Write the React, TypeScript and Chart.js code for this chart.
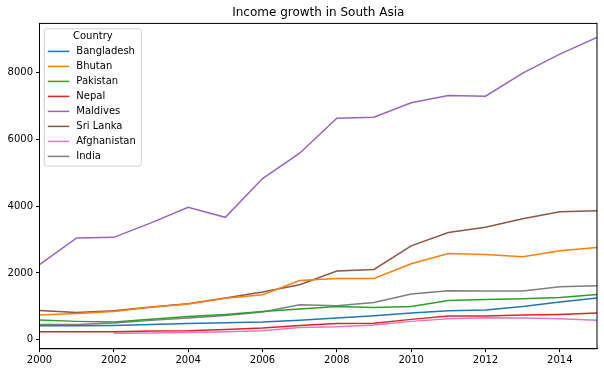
import React, { useEffect, useRef } from "react";
import { Chart, registerables } from "chart.js";

Chart.register(...registerables);

const TITLE = "Income growth in South Asia";
const LEGEND_TITLE = "Country";
const YEARS = [2000, 2001, 2002, 2003, 2004, 2005, 2006, 2007, 2008, 2009, 2010, 2011, 2012, 2013, 2014, 2015];
const COUNTRIES = ["Bangladesh", "Bhutan", "Pakistan", "Nepal", "Maldives", "Sri Lanka", "Afghanistan", "India"];
const COLORS = ["#1f77b4", "#ff7f0e", "#2ca02c", "#d62728", "#9467bd", "#8c564b", "#e377c2", "#7f7f7f"];

const BANGLADESH = [419, 419, 429, 455, 489, 509, 529, 579, 649, 718, 798, 868, 893, 998, 1128, 1248];
const BHUTAN = [739, 788, 848, 970, 1070, 1240, 1347, 1775, 1836, 1836, 2275, 2584, 2554, 2485, 2665, 2764];
const PAKISTAN = [590, 549, 529, 615, 698, 758, 848, 918, 998, 968, 998, 1178, 1208, 1228, 1268, 1357];
const NEPAL = [240, 240, 240, 258, 269, 309, 349, 429, 489, 490, 609, 708, 708, 738, 758, 798];
const MALDIVES = [2250, 3050, 3068, 3500, 3967, 3667, 4830, 5590, 6640, 6670, 7100, 7320, 7300, 7990, 8560, 9060];
const SRI_LANKA = [877, 818, 868, 980, 1078, 1250, 1427, 1647, 2056, 2105, 2814, 3213, 3373, 3623, 3832, 3862];
const AFGHANISTAN = [null, null, 190, 200, 215, 240, 269, 369, 389, 439, 549, 629, 659, 649, 629, 579];
const INDIA = [459, 459, 499, 579, 649, 728, 828, 1048, 1018, 1118, 1367, 1467, 1457, 1457, 1587, 1617];

const SERIES = [BANGLADESH, BHUTAN, PAKISTAN, NEPAL, MALDIVES, SRI_LANKA, AFGHANISTAN, INDIA];

const X_TICKS = [2000, 2002, 2004, 2006, 2008, 2010, 2012, 2014];
const Y_TICKS = [0, 2000, 4000, 6000, 8000];
const X_MIN = 2000;
const X_MAX = 2015;
const Y_MIN = -270;
const Y_MAX = 9480;

const FONT = "'DejaVu Sans', sans-serif";

const framePlugin = {
  id: "frame",
  afterDatasetsDraw(chart: any) {
    const { ctx, chartArea: a } = chart;
    ctx.save();
    ctx.strokeStyle = "#000";
    ctx.lineWidth = 1;
    ctx.strokeRect(a.left, a.top, a.right - a.left, a.bottom - a.top);
    ctx.restore();
  },
};

const legendPlugin = {
  id: "boxLegend",
  afterDraw(chart: any) {
    const { ctx, chartArea: a } = chart;
    const bx = a.left + 4.8;
    const by = a.top + 5.4;
    const bw = 97;
    const bh = 137.3;
    const r = 2.5;
    ctx.save();
    ctx.beginPath();
    ctx.moveTo(bx + r, by);
    ctx.lineTo(bx + bw - r, by);
    ctx.quadraticCurveTo(bx + bw, by, bx + bw, by + r);
    ctx.lineTo(bx + bw, by + bh - r);
    ctx.quadraticCurveTo(bx + bw, by + bh, bx + bw - r, by + bh);
    ctx.lineTo(bx + r, by + bh);
    ctx.quadraticCurveTo(bx, by + bh, bx, by + bh - r);
    ctx.lineTo(bx, by + r);
    ctx.quadraticCurveTo(bx, by, bx + r, by);
    ctx.closePath();
    ctx.fillStyle = "rgba(255,255,255,0.8)";
    ctx.fill();
    ctx.strokeStyle = "#d0d0d0";
    ctx.lineWidth = 1;
    ctx.stroke();

    ctx.fillStyle = "#000";
    ctx.font = `10px ${FONT}`;
    ctx.textBaseline = "middle";
    ctx.textAlign = "center";
    ctx.fillText(LEGEND_TITLE, bx + bw / 2, a.top + 12.7);
    ctx.textAlign = "left";
    COUNTRIES.forEach((name, i) => {
      const y = a.top + 28 + i * 15;
      ctx.strokeStyle = COLORS[i];
      ctx.lineWidth = 1.5;
      ctx.beginPath();
      ctx.moveTo(bx + 3.5, y);
      ctx.lineTo(bx + 25, y);
      ctx.stroke();
      ctx.fillStyle = "#000";
      ctx.fillText(name, bx + 32, y);
    });
    ctx.restore();
  },
};

export default function App() {
  const ref = useRef<HTMLCanvasElement | null>(null);

  useEffect(() => {
    if (!ref.current) return;
    const datasets = COUNTRIES.map((name, i) => ({
      label: name,
      data: YEARS.map((x, j) => ({ x, y: SERIES[i][j] })),
      borderColor: COLORS[i],
      backgroundColor: COLORS[i],
      borderWidth: 1.5,
      pointRadius: 0,
      pointHoverRadius: 0,
      tension: 0,
      fill: false,
      spanGaps: false,
    }));

    const tickFont = { family: FONT, size: 10 };

    const chart = new Chart(ref.current, {
      type: "line",
      data: { datasets },
      options: {
        animation: false,
        responsive: false,
        devicePixelRatio: 1,
        layout: { padding: { left: 0, right: 7, top: 0, bottom: 0 } },
        plugins: {
          legend: { display: false },
          tooltip: { enabled: false },
          title: {
            display: true,
            text: TITLE,
            fullSize: false,
            color: "#000",
            font: { family: FONT, size: 12, weight: "normal" },
            padding: { top: 6, bottom: 3 },
          },
        },
        scales: {
          x: {
            type: "linear",
            min: X_MIN,
            max: X_MAX,
            afterBuildTicks: (s: any) => {
              s.ticks = X_TICKS.map((v) => ({ value: v }));
            },
            afterFit: (s: any) => {
              s.height = 24.3;
            },
            grid: {
              display: true,
              drawOnChartArea: false,
              drawTicks: true,
              tickLength: 3.5,
              color: "#000",
              lineWidth: 1,
            },
            border: { display: true, color: "#000", width: 1 },
            ticks: {
              font: tickFont,
              color: "#000",
              padding: 2,
              maxRotation: 0,
              autoSkip: false,
              callback: (v: any) => String(v),
            },
          },
          y: {
            type: "linear",
            min: Y_MIN,
            max: Y_MAX,
            afterBuildTicks: (s: any) => {
              s.ticks = Y_TICKS.map((v) => ({ value: v }));
            },
            afterFit: (s: any) => {
              s.width = 39.5;
            },
            grid: {
              display: true,
              drawOnChartArea: false,
              drawTicks: true,
              tickLength: 3.5,
              color: "#000",
              lineWidth: 1,
            },
            border: { display: true, color: "#000", width: 1 },
            ticks: {
              font: tickFont,
              color: "#000",
              padding: 3,
              autoSkip: false,
              callback: (v: any) => String(v),
            },
          },
        },
      },
      plugins: [framePlugin, legendPlugin],
    } as any);

    return () => chart.destroy();
  }, []);

  return (
    <div style={{ position: "fixed", left: 0, top: 0, width: 604, height: 373, background: "#fff" }}>
      <canvas ref={ref} width={604} height={373} style={{ display: "block" }} />
    </div>
  );
}
